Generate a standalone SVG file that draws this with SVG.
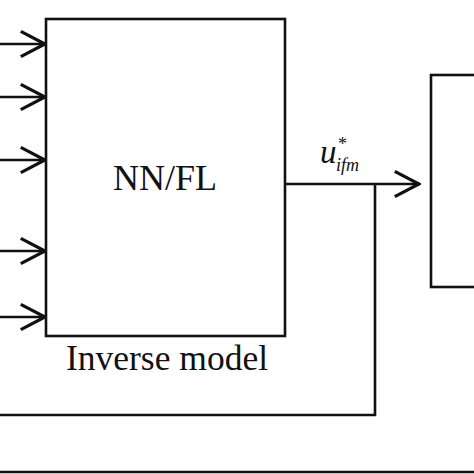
<svg xmlns="http://www.w3.org/2000/svg" width="474" height="474" viewBox="0 0 474 474">
<style>
.ln{fill:none;stroke:#111;stroke-width:2.6}
.bx{fill:#fff;stroke:#111;stroke-width:2.6}
.t{font-family:"Liberation Serif","Times New Roman",serif;fill:#111}
</style>
<defs>
<marker id="ah" markerUnits="userSpaceOnUse" markerWidth="30" markerHeight="30" viewBox="-24 -13 26 26" refX="0" refY="0" orient="auto">
<path d="M-21,-11 L0,0 L-21,11" fill="none" stroke="#111" stroke-width="2.8"/>
</marker>
</defs>
<rect width="474" height="474" fill="#fff"/>
<g id="inverse-model">
<rect class="bx" x="46" y="19" width="239" height="317"/>
<text class="t" x="165" y="190" font-size="36" text-anchor="middle">NN/FL</text>
<text class="t" x="167" y="370" font-size="35.5" text-anchor="middle">Inverse model</text>
</g>
<g id="plant">
<rect class="bx" x="431" y="75" width="60" height="212"/>
</g>
<g id="connectors">
<line class="ln" x1="0" y1="44" x2="45" y2="44" marker-end="url(#ah)"/>
<line class="ln" x1="0" y1="97" x2="45" y2="97" marker-end="url(#ah)"/>
<line class="ln" x1="0" y1="160" x2="45" y2="160" marker-end="url(#ah)"/>
<line class="ln" x1="0" y1="251" x2="45" y2="251" marker-end="url(#ah)"/>
<line class="ln" x1="0" y1="317" x2="45" y2="317" marker-end="url(#ah)"/>
<line class="ln" x1="285" y1="184" x2="419" y2="184" marker-end="url(#ah)"/>
<polyline class="ln" points="375,184 375,415 0,415"/>
<line class="ln" x1="0" y1="472" x2="474" y2="472"/>
<text class="t" x="320" y="163" font-size="33" font-style="italic">u</text>
<text class="t" x="338" y="150" font-size="18">*</text>
<text class="t" x="336" y="171" font-size="18" font-style="italic">ifm</text>
</g>
</svg>
